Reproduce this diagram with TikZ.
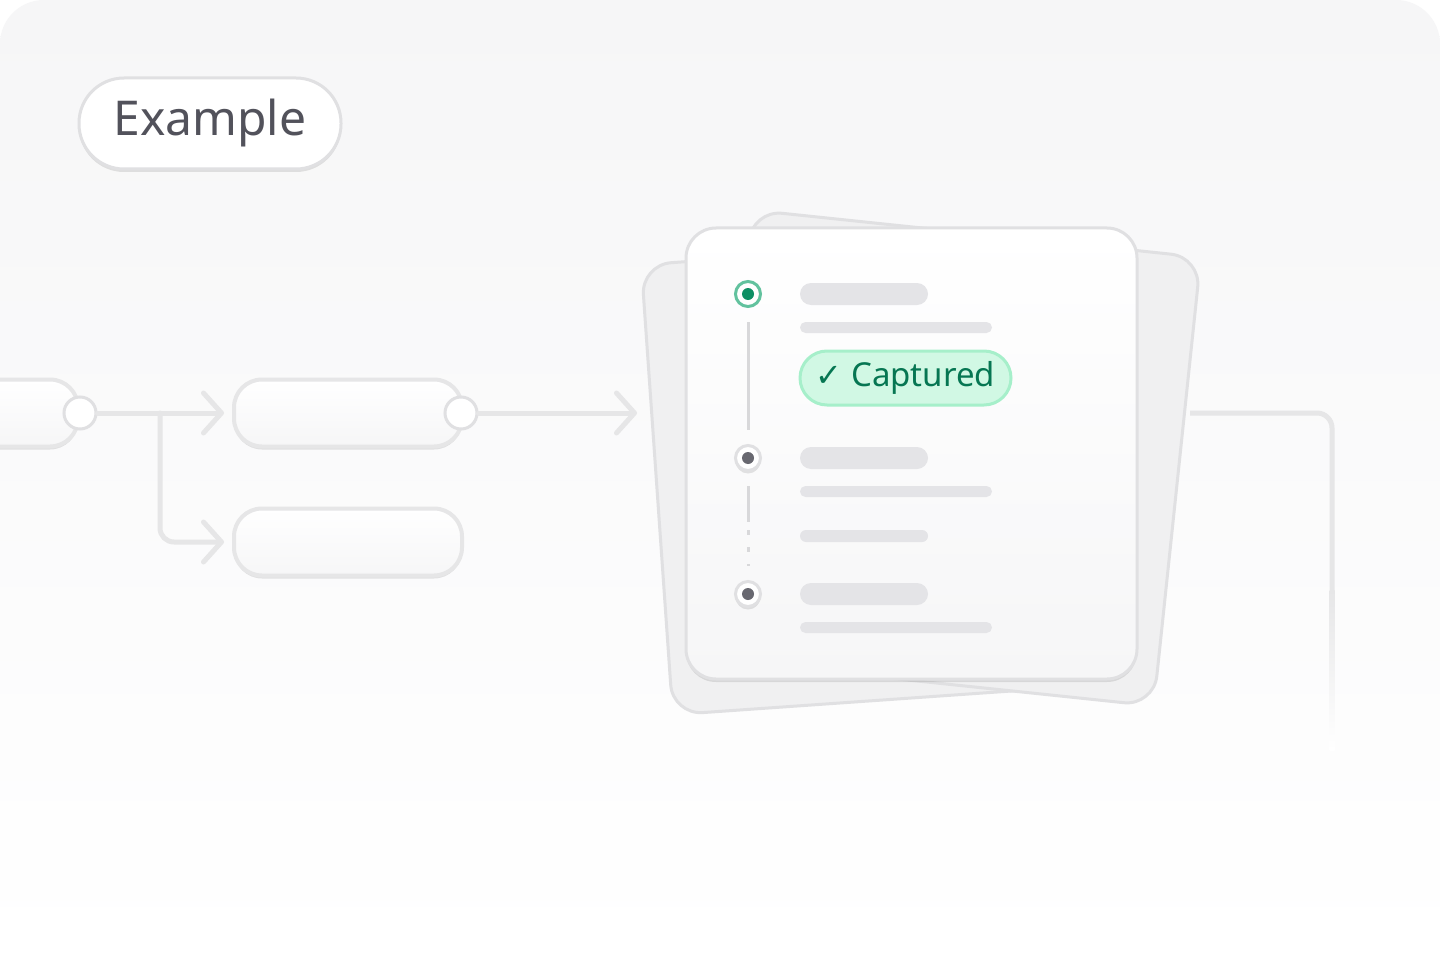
\documentclass[tikz,border=0pt]{standalone}
\usepackage{fontspec}
\usepackage{xcolor}
\setmainfont{Noto Sans}
\newfontfamily\checkfont{DejaVu Sans}
\usetikzlibrary{arrows.meta,shadows}

\definecolor{paper}{RGB}{246,246,247}
\definecolor{wireclr}{RGB}{230,230,231}
\definecolor{rimclr}{RGB}{224,224,226}
\definecolor{sheetclr}{RGB}{240,240,241}
\definecolor{boxshade}{RGB}{246,246,247}
\definecolor{skelclr}{RGB}{228,228,231}
\definecolor{railclr}{RGB}{216,216,218}
\definecolor{inkclr}{RGB}{82,82,91}
\definecolor{dotclr}{RGB}{104,104,112}
\definecolor{mintclr}{RGB}{209,248,228}
\definecolor{mintrim}{RGB}{166,239,202}
\definecolor{leafclr}{RGB}{6,118,82}
\definecolor{leafdot}{RGB}{14,143,100}
\definecolor{leafring}{RGB}{98,194,158}

\tikzset{
	softshadow/.style={drop shadow={shadow xshift=0pt,shadow yshift=-3pt,opacity=.10,fill=black}},
	wire/.style={draw=wireclr,line width=5pt,line cap=round,line join=round},
	chevron/.style={-{Straight Barb[length=18pt,width=40pt,round]},shorten >=8pt},
	flowbox/.style={draw=wireclr,line width=4pt,top color=white,bottom color=boxshade,rounded corners=28pt,minimum width=228pt,minimum height=67pt,softshadow},
	port/.style={circle,draw=rimclr,line width=3pt,fill=white,minimum size=32pt,inner sep=0pt},
	sheet/.style={draw=rimclr,line width=3pt,fill=sheetclr,rounded corners=30pt,minimum size=451pt,inner sep=0pt},
	card/.style={draw=rimclr,line width=3pt,top color=white,bottom color=boxshade,rounded corners=30pt,minimum size=451pt,inner sep=0pt,softshadow},
	tagbox/.style={draw=rimclr,line width=3pt,fill=white,rounded corners=45pt,minimum width=262pt,minimum height=91pt,text=inkclr,font=\fontsize{48}{52}\selectfont,softshadow},
	pill/.style={draw=mintrim,line width=3pt,fill=mintclr,rounded corners=27pt,minimum width=211pt,minimum height=54pt,text=leafclr,font=\fontsize{33}{38}\selectfont},
	skel/.style={fill=skelclr,rounded corners=5.5pt,minimum width=192pt,minimum height=11pt,inner sep=0pt},
	stagedone/.style={circle,fill=white,draw=leafring,line width=3pt,minimum size=25pt,inner sep=0pt,path picture={\fill[leafdot] (path picture bounding box.center) circle (6pt);}},
	stagewait/.style={circle,fill=white,draw=rimclr,line width=3pt,minimum size=25pt,inner sep=0pt,softshadow,path picture={\fill[dotclr] (path picture bounding box.center) circle (6pt);}},
	rail/.style={draw=railclr,line width=3pt,shorten <=14pt,shorten >=14pt}
}

\begin{document}
\begin{tikzpicture}[x=1pt,y=-1pt]
	\path[use as bounding box] (0,0) rectangle (1440,960);
	\fill[white] (0,0) rectangle (1440,960);
	\shade[top color=paper,bottom color=white,rounded corners=44pt] (0,0) rectangle (1440,960);

	\node[tagbox] (example) at (210,123.5) {Example};

	\node[flowbox,anchor=east,minimum width=200pt] (src) at (80,413) {};
	\node[flowbox] (fetch) at (348,413) {};
	\node[flowbox] (store) at (348,542) {};
	\node[port] (srcport) at (80,413) {};
	\node[port] (fetchport) at (461,413) {};

	\coordinate (split) at (160,413);
	\coordinate (inlet) at (645,413);
	\coordinate (outlet) at (1190,413);
	\coordinate (tail) at (1332,600);

	\draw[wire,chevron] (srcport.east) -- (fetch.west);
	\draw[wire,chevron,rounded corners=14pt] (split) |- (store.west);
	\draw[wire,chevron] (fetchport.east) -- (inlet);
	\draw[wire,line cap=butt,rounded corners=15pt] (outlet) -| (tail);
	\shade[top color=wireclr,bottom color=white] (1329.5,590) rectangle (1334.5,750);

	\node[sheet,rotate=4] (back1) at (882,474) {};
	\node[sheet,rotate=-6] (back2) at (953,458) {};
	\node[card] (front) at (911.5,453.5) {};

	\node[stagedone] (s1) at (748,294) {};
	\node[stagewait] (s2) at (748,458) {};
	\node[stagewait] (s3) at (748,594) {};
	\draw[rail] (s1) -- (s2);
	\draw[rail,dash pattern=on 36pt off 8pt on 5pt off 12pt on 5pt off 12pt on 5pt off 30pt] (s2) -- (s3);

	\node[skel,minimum width=128pt,minimum height=22pt,rounded corners=11pt] (h1) at (864,294) {};
	\node[skel] (l1) at (896,327.5) {};
	\node[pill] (captured) at (905.5,378) {{\checkfont\fontsize{32}{36}\selectfont ✓}~Captured};
	\node[skel,minimum width=128pt,minimum height=22pt,rounded corners=11pt] (h2) at (864,458) {};
	\node[skel] (l2) at (896,491.5) {};
	\node[skel,minimum width=128pt,minimum height=12pt,rounded corners=6pt] (l3) at (864,536) {};
	\node[skel,minimum width=128pt,minimum height=22pt,rounded corners=11pt] (h3) at (864,594) {};
	\node[skel] (l4) at (896,627.5) {};
\end{tikzpicture}
\end{document}
